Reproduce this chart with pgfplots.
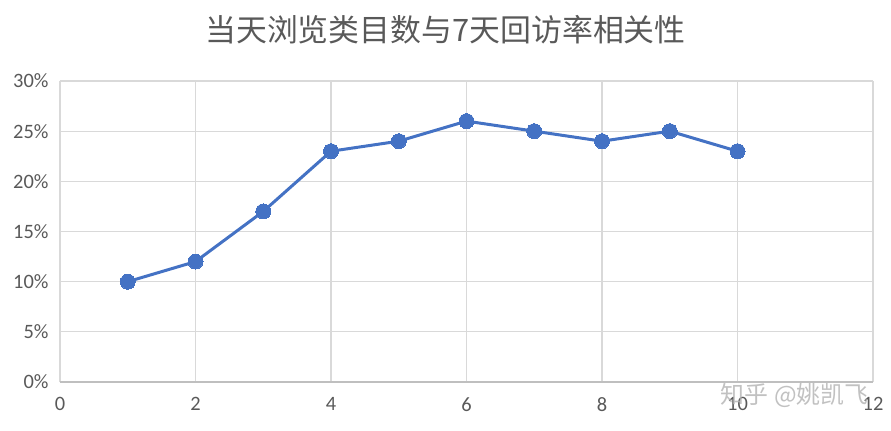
\documentclass[border=0pt]{standalone}
\usepackage{fontspec}
\setmainfont{Carlito}
\newfontfamily\cjk{Noto Sans CJK SC}
\usepackage{pgfplots}
\pgfplotsset{compat=1.18}
\definecolor{txtgray}{HTML}{595959}
\definecolor{gridgray}{HTML}{D9D9D9}
\definecolor{axgray}{HTML}{BFBFBF}
\definecolor{xlblue}{HTML}{4472C4}
\begin{document}
\begin{tikzpicture}
\useasboundingbox (-60bp,-49bp) rectangle (831bp,382bp);
\begin{axis}[
    at={(0,0)}, anchor=south west,
    scale only axis,
    width=813bp, height=301bp,
    xmin=0, xmax=12, ymin=0, ymax=30,
    xtick={0,2,...,12},
    ytick={0,5,...,30},
    yticklabel={\pgfmathprintnumber{\tick}\%},
    /pgf/number format/assume math mode=true,
    tick label style={font=\fontsize{20.5}{22}\selectfont, text=txtgray},
    xticklabel style={yshift=-12bp},
    yticklabel style={xshift=-8bp},
    major tick length=0pt,
    grid=major,
    major grid style={gridgray, line width=1.2bp},
    axis line style={draw=none},
    axis x line*=bottom,
    clip=false,
]
\addplot[xlblue, line width=3bp, mark=*, mark size=7.5bp,
    mark options={fill=xlblue, draw=xlblue, line width=0pt}]
    coordinates {(1,10) (2,12) (3,17) (4,23) (5,24) (6,26) (7,25) (8,24) (9,25) (10,23)};
\draw[axgray, line width=1.2bp] (axis cs:0,0) -- (axis cs:12,0);
\end{axis}
\node[text=txtgray, font=\cjk\fontsize{31}{34}\selectfont] at (385.5bp,352bp) {当天浏览类目数与7天回访率相关性};
\node[text=gray!60, opacity=0.8, font=\cjk\fontsize{24}{26}\selectfont, anchor=east] at (812bp,-14bp) {知乎 @姚凯飞};
\end{tikzpicture}
\end{document}
